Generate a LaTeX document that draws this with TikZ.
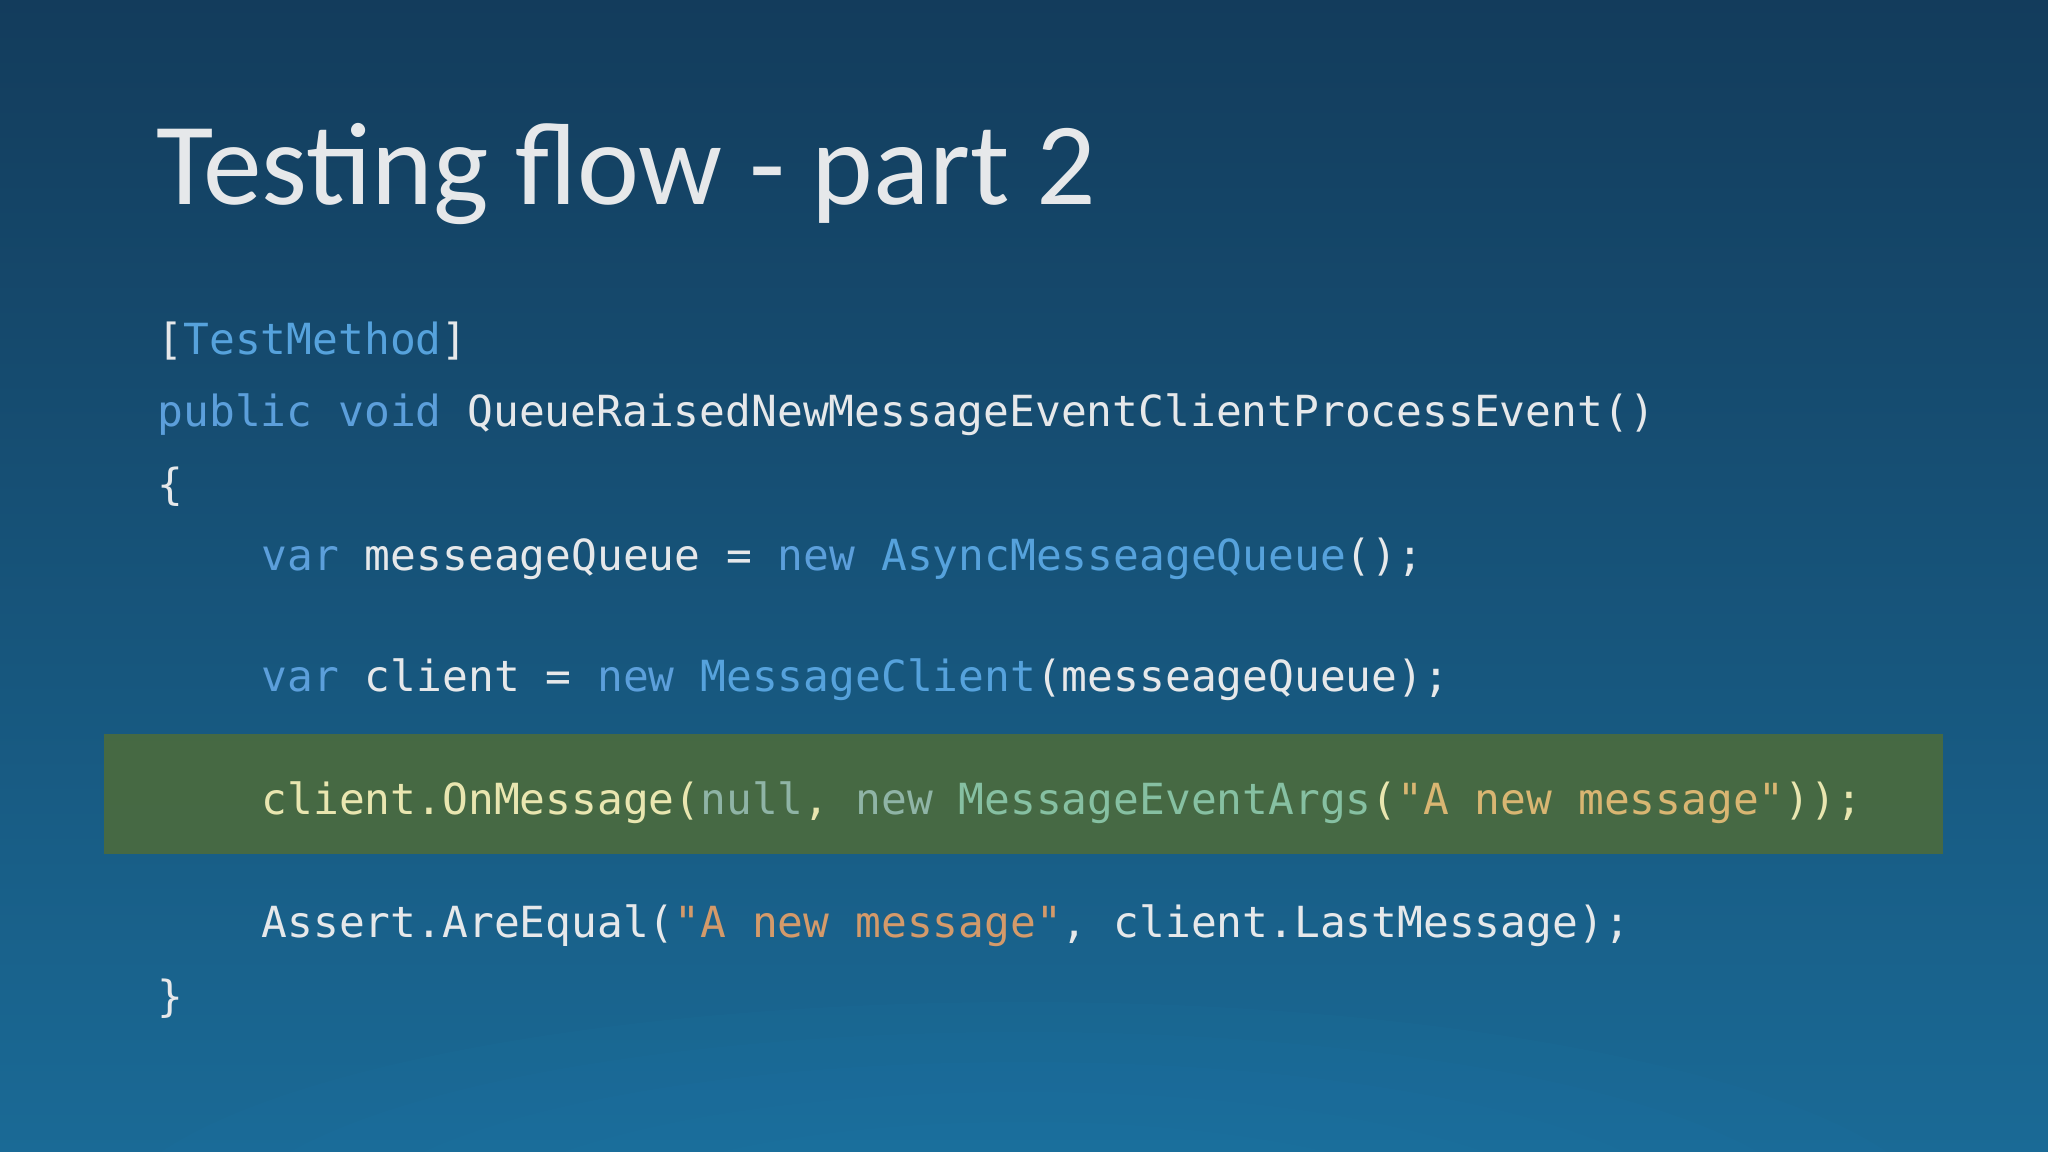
\documentclass[tikz,border=0pt]{standalone}
\usepackage{fontspec}
\setmainfont{Carlito}
\newfontfamily\codefont{DejaVu Sans Mono}
\usepackage{tikz}

\definecolor{bgtop}{HTML}{133C5C}
\definecolor{bgbot}{HTML}{1A6A96}
\definecolor{kw}{HTML}{5C9FDB}
\definecolor{typ}{HTML}{56A2DC}
\definecolor{str}{HTML}{D49A6A}
\definecolor{txt}{HTML}{E6E8EA}
\definecolor{hlfill}{HTML}{4B6B3D}
\definecolor{hltxt}{HTML}{E9E6B0}
\definecolor{hlkw}{HTML}{8FB4A6}
\definecolor{hltyp}{HTML}{86C0A2}
\definecolor{hlstr}{HTML}{D9B672}

\begin{document}
\begin{tikzpicture}[x=1cm,y=1cm,
  code/.style={anchor=base west,inner sep=0pt,text=txt,
    font=\codefont\fontsize{12.2pt}{14pt}\selectfont}]
  \useasboundingbox (0,0) rectangle (20.48,11.52);
  % background
  \begin{scope}
    \clip (0,0) rectangle (20.48,11.52);
    \shade[top color=bgtop,bottom color=bgbot] (0,0) rectangle (20.48,11.52);
    \foreach \r in {1,...,6}
      \fill[cyan!60!bgbot,opacity=0.04] (10.24,-0.8) ellipse [x radius=2+\r*1.2,y radius=0.5+\r*0.3];
  \end{scope}
  % title
  \node[anchor=base west,inner sep=0pt,text=txt,
    font=\fontsize{33.4pt}{38pt}\selectfont] (title) at (1.56,9.47) {Testing flow - part 2};
  % highlight
  \fill[hlfill,opacity=0.9] (1.04,2.98) rectangle (19.43,4.18);
  % code
  \node[code] (attr) at (1.57,7.97) {[\textcolor{typ}{TestMethod}]};
  \node[code] (sig) at (1.57,7.25) {\textcolor{kw}{public void} QueueRaisedNewMessageEventClientProcessEvent()};
  \node[code] (open) at (1.57,6.52) {\{};
  \node[code] (queue) at (2.61,5.81) {\textcolor{kw}{var} messeageQueue = \textcolor{kw}{new} \textcolor{typ}{AsyncMesseageQueue}();};
  \node[code] (client) at (2.61,4.60) {\textcolor{kw}{var} client = \textcolor{kw}{new} \textcolor{typ}{MessageClient}(messeageQueue);};
  \node[code,text=hltxt] (call) at (2.61,3.37) {client.OnMessage(\textcolor{hlkw}{null}, \textcolor{hlkw}{new} \textcolor{hltyp}{MessageEventArgs}(\textcolor{hlstr}{"A new message"}));};
  \node[code] (assert) at (2.61,2.14) {Assert.AreEqual(\textcolor{str}{"A new message"}, client.LastMessage);};
  \node[code] (close) at (1.57,1.40) {\}};
\end{tikzpicture}
\end{document}
